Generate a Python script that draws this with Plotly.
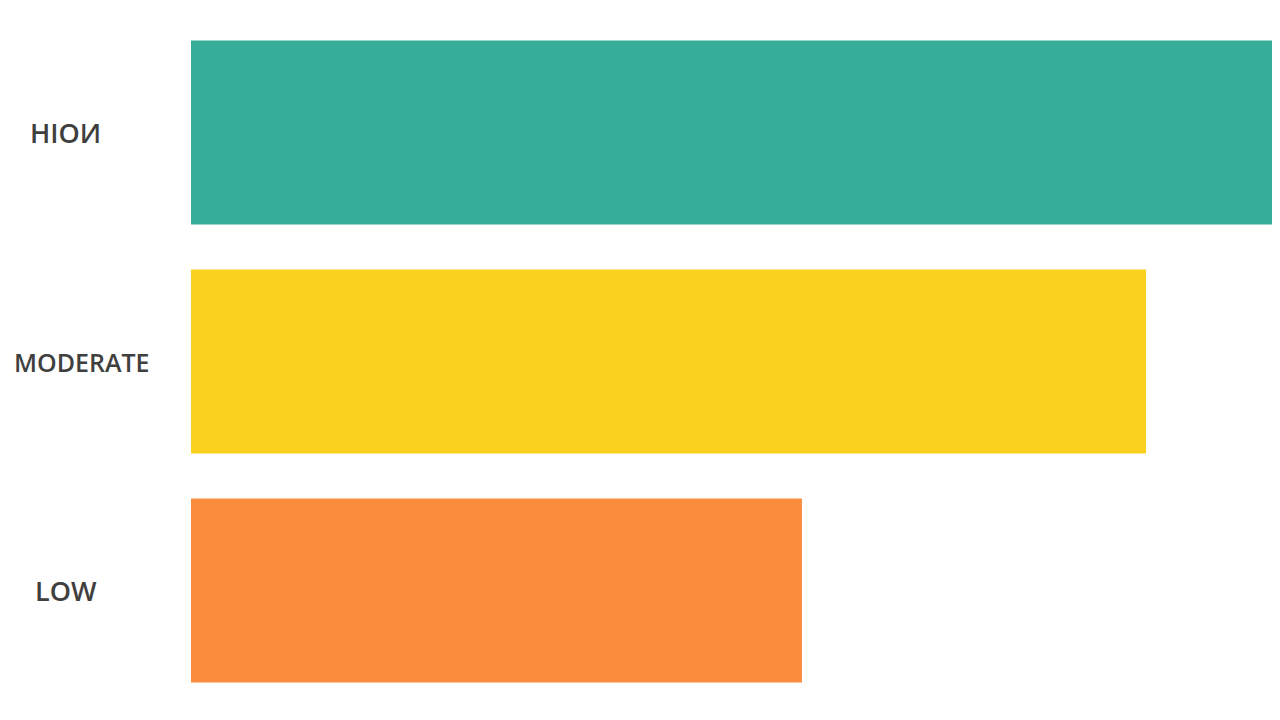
import plotly.graph_objects as go

# categories and values (bar length, HIGH runs off the right edge)
levels = ["LOW", "MODERATE", "HIGH"]
labels = ["LOW", "MODERATE", "HIOИ"]
values = [56.1, 87.7, 100]
colors = ["#F98D3D", "#F8D21E", "#35AD98"]

fig = go.Figure()
fig.add_trace(go.Bar(
    y=levels,
    x=values,
    orientation="h",
    marker=dict(color=colors, line=dict(width=0)),
    hoverinfo="skip",
))

# category labels in the left margin; the long one is pushed right so it fits
for lvl, txt in zip(levels, labels):
    long_label = len(txt) > 6
    fig.add_annotation(
        x=-0.036 if long_label else -0.115, xref="paper", y=lvl, yref="y",
        text=txt, showarrow=False,
        xanchor="right" if long_label else "center",
        font=dict(family="Open Sans", size=25 if long_label else 27,
                  color="#3f3f3f", weight=600),
    )

# page body has an 8px margin, so the figure is sized to fit the window
fig.update_layout(
    width=1272, height=712,
    margin=dict(l=183, r=0, t=10, b=15),
    plot_bgcolor="white", paper_bgcolor="white",
    bargap=0.197,
    showlegend=False,
    xaxis=dict(range=[0, 100], visible=False),
    yaxis=dict(showticklabels=False, showgrid=False, zeroline=False),
)

fig.write_html("out.html")
